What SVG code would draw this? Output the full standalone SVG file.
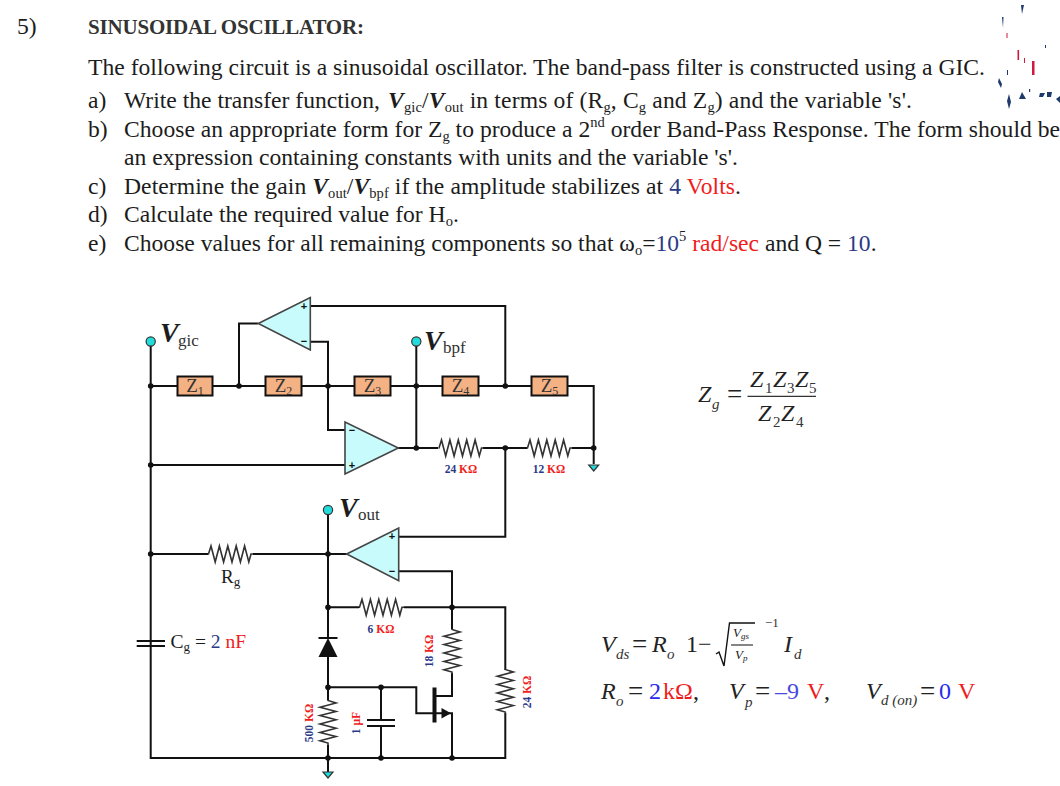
<svg xmlns="http://www.w3.org/2000/svg" width="1060" height="786" viewBox="0 0 1060 786">
<style>
text{font-family:"Liberation Serif","Times New Roman",serif;fill:#1c1c1c}
.q{font-size:23.6px}
.b{fill:#2b3a86}.r{fill:#f01c1c}.bb{fill:#2a2aee}
.sub{font-size:14.5px}
.sc{font-style:italic;font-weight:bold}
.w{fill:none;stroke:#111;stroke-width:2}
.z{fill:#f4b183;stroke:#111;stroke-width:2}
.zt{font-size:19px;text-anchor:middle;fill:#333}
.zs{font-size:12px}
.oa{fill:#c8fbfb;stroke:#444;stroke-width:1.6}
.pm{font-family:"Liberation Sans",sans-serif;font-size:11px;font-weight:bold;text-anchor:middle;fill:#111}
.n{fill:#111}
.t{fill:#22dbdb;stroke:#333;stroke-width:1.2}
.res{fill:none;stroke:#333;stroke-width:1.6}
.lab{font-size:11.5px;font-weight:bold;text-anchor:middle}
.eq{font-size:24px;font-style:italic;fill:#222}
.eqn{font-size:24px;fill:#222}
.eql{font-size:27px;fill:#222}
.es{font-size:15px;font-style:italic;fill:#333}
.en{font-size:15px;fill:#333}
.sp{fill:#1e3a6a}.spr{fill:#d01840}
</style>
<defs>
<path id="rz" d="M0 0H0.5L3 -8L7.2 8L11.4 -8L15.6 8L19.8 -8L24 8L28.2 -8L32.4 8L36.6 -8L40.8 8L43 0H45"/>
<circle id="dot" r="2.8"/>
<path id="gnd" d="M-5 -3H5L0 3Z"/>
</defs>

<g id="problem-text">
<text x="17" y="34" class="q">5)</text>
<text x="88" y="34" font-size="21" font-weight="bold" style="fill:#333" textLength="276">SINUSOIDAL OSCILLATOR:</text>
<text x="88" y="75" class="q" textLength="897">The following circuit is a sinusoidal oscillator. The band-pass filter is constructed using a GIC.</text>
<text x="88" y="108" class="q">a)</text>
<text x="124" y="108" class="q">Write the transfer function, </text>
<text x="388" y="108" class="q" textLength="524"><tspan class="sc">V</tspan><tspan class="sub" dy="4">gic</tspan><tspan dy="-4">/</tspan><tspan class="sc">V</tspan><tspan class="sub" dy="4">out</tspan><tspan dy="-4"> in terms of (R</tspan><tspan class="sub" dy="4">g</tspan><tspan dy="-4">, C</tspan><tspan class="sub" dy="4">g</tspan><tspan dy="-4"> and Z</tspan><tspan class="sub" dy="4">g</tspan><tspan dy="-4">) and the variable 's'.</tspan></text>
<text x="88" y="137" class="q">b)</text>
<text x="124" y="137" class="q" textLength="936">Choose an appropriate form for Z<tspan class="sub" dy="4">g</tspan><tspan dy="-4"> to produce a 2</tspan><tspan class="sub" dy="-10">nd</tspan><tspan dy="10"> order Band-Pass Response. The form should be</tspan></text>
<text x="124" y="165" class="q">an expression containing constants with units and the variable 's'.</text>
<text x="88" y="194" class="q">c)</text>
<text x="124" y="194" class="q" textLength="617">Determine the gain <tspan class="sc">V</tspan><tspan class="sub" dy="4">out</tspan><tspan dy="-4">/</tspan><tspan class="sc">V</tspan><tspan class="sub" dy="4">bpf</tspan><tspan dy="-4"> if the amplitude stabilizes at </tspan><tspan class="b">4</tspan> <tspan class="r">Volts</tspan>.</text>
<text x="88" y="222" class="q">d)</text>
<text x="124" y="222" class="q">Calculate the required value for H<tspan class="sub" dy="4">o</tspan><tspan dy="-4">.</tspan></text>
<text x="88" y="251" class="q">e)</text>
<text x="124" y="251" class="q">Choose values for all remaining components so that ω<tspan class="sub" dy="4">o</tspan><tspan dy="-4">=</tspan><tspan class="b">10</tspan><tspan class="sub" dy="-10">5</tspan><tspan class="r" dy="10"> rad/sec</tspan> and Q = <tspan class="b">10</tspan>.</text>
</g>

<g id="connectors">
<path class="w" d="M150.7 342V758H505.3V713"/>
<path class="w" d="M150.7 386H177M213 386H265M302 386H355M390 386H443M479 386H531M568 386H593.7V464"/>
<path class="w" d="M239 386V323.5H258"/>
<path class="w" d="M310 306H505.3V386"/>
<path class="w" d="M310 341.7H328V430H345"/>
<path class="w" d="M150.7 465H345"/>
<path class="w" d="M398 448H438M416.3 342V448"/>
<path class="w" d="M483 448H527M572 448H593.7"/>
<path class="w" d="M505.3 448V536.7H398.7"/>
<path class="w" d="M150.7 554H208M253 554H346.7"/>
<path class="w" d="M328 510V638M328 656V700M328 745V772"/>
<path class="w" d="M398.7 571.3H452V629M452 673V696H436"/>
<path class="w" d="M328 607.3H359M404 607.3H505.3V670"/>
<path class="w" d="M328 687.3H416.3V713.3H436M381 687.3V720M381 726V758"/>
<path class="w" d="M436 713.3H452V758"/>
<path class="w" d="M136.7 641H165M136.7 646H165" stroke-width="2.4"/>
</g>

<g id="Z1"><rect class="z" x="177.5" y="376.5" width="35" height="19"/><text class="zt" x="195" y="392">Z<tspan class="zs" dy="3">1</tspan></text></g>
<g id="Z2"><rect class="z" x="265.5" y="376.5" width="36" height="19"/><text class="zt" x="283.5" y="392">Z<tspan class="zs" dy="3">2</tspan></text></g>
<g id="Z3"><rect class="z" x="354.5" y="376.5" width="36" height="19"/><text class="zt" x="372.5" y="392">Z<tspan class="zs" dy="3">3</tspan></text></g>
<g id="Z4"><rect class="z" x="442.5" y="376.5" width="36" height="19"/><text class="zt" x="460.5" y="392">Z<tspan class="zs" dy="3">4</tspan></text></g>
<g id="Z5"><rect class="z" x="531.5" y="376.5" width="36" height="19"/><text class="zt" x="549.5" y="392">Z<tspan class="zs" dy="3">5</tspan></text></g>

<g id="opamp-top"><path class="oa" d="M258.3 323.5L310.3 297.5V350Z"/><text class="pm" x="304" y="310">+</text><text class="pm" x="304" y="345">−</text></g>
<g id="opamp-mid"><path class="oa" d="M345 422V474L398.3 448Z"/><text class="pm" x="352" y="434">−</text><text class="pm" x="352" y="469">+</text></g>
<g id="opamp-out"><path class="oa" d="M346.7 554L398.7 528V580.7Z"/><text class="pm" x="392" y="540">+</text><text class="pm" x="392" y="575">−</text></g>

<g id="R-24k-top"><use href="#rz" class="res" transform="translate(438.5 448)"/><text class="lab" x="461" y="473"><tspan class="b">24</tspan> <tspan class="r">KΩ</tspan></text></g>
<g id="R-12k"><use href="#rz" class="res" transform="translate(527 448)"/><text class="lab" x="549" y="473"><tspan class="b">12</tspan> <tspan class="r">KΩ</tspan></text></g>
<g id="Rg"><use href="#rz" class="res" transform="translate(208 554)"/><text x="221" y="583" font-size="19">R<tspan font-size="13" dy="3">g</tspan></text></g>
<g id="Cg"><text x="170.5" y="648" font-size="19.5">C<tspan font-size="13" dy="3">g</tspan><tspan dy="-3"> = </tspan><tspan class="b">2</tspan> <tspan class="r">nF</tspan></text></g>
<g id="R-6k"><use href="#rz" class="res" transform="translate(359 607.3)"/><text class="lab" x="381" y="633"><tspan class="b">6</tspan> <tspan class="r">KΩ</tspan></text></g>
<g id="R-18k"><use href="#rz" class="res" transform="translate(452 629) rotate(90)"/><text class="lab" transform="translate(433 651) rotate(-90)"><tspan class="b">18</tspan> <tspan class="r">KΩ</tspan></text></g>
<g id="R-24k-right"><use href="#rz" class="res" transform="translate(505.3 669) rotate(90)"/><text class="lab" transform="translate(531 692) rotate(-90)"><tspan class="b">24</tspan> <tspan class="r">KΩ</tspan></text></g>
<g id="R-500k"><use href="#rz" class="res" transform="translate(328 700) rotate(90)"/><text class="lab" transform="translate(313 723) rotate(-90)"><tspan class="b">500</tspan> <tspan class="r">KΩ</tspan></text></g>
<g id="C-1u"><path class="w" d="M367 720H395M367 726H395" stroke-width="2.4"/><text class="lab" transform="translate(360 723) rotate(-90)"><tspan class="b">1</tspan> <tspan class="r">µF</tspan></text></g>
<g id="diode"><path class="n" d="M328 638L337.5 657H318.5Z"/><path class="w" d="M318.5 638H337.5" stroke-width="2.6"/></g>
<g id="jfet"><rect class="n" x="432.5" y="687.5" width="4" height="35"/><path class="n" d="M451 713.3L441.5 708V718.5Z"/></g>

<g id="junctions" class="n">
<use href="#dot" x="150.7" y="386"/><use href="#dot" x="239" y="386"/><use href="#dot" x="328" y="386"/><use href="#dot" x="416.3" y="386"/><use href="#dot" x="505.3" y="386"/>
<use href="#dot" x="150.7" y="465"/><use href="#dot" x="416.3" y="448"/><use href="#dot" x="505.3" y="448"/><use href="#dot" x="593.7" y="448"/>
<use href="#dot" x="150.7" y="554"/><use href="#dot" x="328" y="554"/><use href="#dot" x="328" y="607.3"/><use href="#dot" x="452" y="607.3"/>
<use href="#dot" x="328" y="687.3"/><use href="#dot" x="381" y="687.3"/><use href="#dot" x="328" y="758"/><use href="#dot" x="381" y="758"/><use href="#dot" x="452" y="758"/>
</g>

<g id="Vgic"><circle class="t" cx="150.7" cy="341.5" r="4.6"/><text x="160" y="342" font-size="28" class="sc">V</text><text x="178" y="346" font-size="17" style="fill:#333">gic</text></g>
<g id="Vbpf"><circle class="t" cx="416.3" cy="341.5" r="4.6"/><text x="424" y="350" font-size="28" class="sc">V</text><text x="443" y="353" font-size="17" style="fill:#333">bpf</text></g>
<g id="Vout"><circle class="t" cx="328" cy="510" r="4.6"/><text x="339" y="517" font-size="28" class="sc">V</text><text x="358" y="520" font-size="17" style="fill:#333">out</text></g>
<g id="ground-1"><use href="#gnd" class="t" x="593.7" y="468"/></g>
<g id="ground-2"><use href="#gnd" class="t" x="328" y="775"/></g>

<g id="equations">
<text class="eq" x="698" y="402">Z</text><text class="es" x="712" y="409">g</text><text class="eql" x="727" y="403">=</text>
<text class="eq" x="750" y="387">Z</text><text class="en" x="765" y="393">1</text><text class="eq" x="773" y="387">Z</text><text class="en" x="787" y="393">3</text><text class="eq" x="795" y="387">Z</text><text class="en" x="809" y="393">5</text>
<path d="M747.5 396.3H816" fill="none" stroke="#333" stroke-width="1.2"/>
<text class="eq" x="758" y="421">Z</text><text class="en" x="773" y="427">2</text><text class="eq" x="781" y="421">Z</text><text class="en" x="796" y="427">4</text>

<text class="eq" x="601" y="652">V</text><text class="es" x="616" y="659">ds</text><text class="eql" x="632" y="653">=</text><text class="eq" x="652" y="652">R</text><text class="es" x="667" y="659">o</text>
<text class="eqn" x="686" y="652">1−</text>
<path d="M716 654L719 652L724 666L729.5 623H755" fill="none" stroke="#111" stroke-width="1.4"/>
<text x="733" y="637" font-size="13" font-style="italic">V<tspan font-size="9" dy="2">gs</tspan></text>
<path d="M731 645H753" fill="none" stroke="#333" stroke-width="1.2"/>
<text x="735" y="659" font-size="13" font-style="italic">V<tspan font-size="9" dy="2">p</tspan></text>
<text x="765" y="627" font-size="13" style="fill:#333">−1</text>
<text class="eq" x="784" y="652">I</text><text class="es" x="794" y="659">d</text>

<text class="eq" x="601" y="699">R</text><text class="es" x="616" y="706">o</text><text class="eql" x="628" y="700">=</text>
<text class="eqn" x="649" y="699" style="fill:#2a2aee">2</text><text class="eqn" x="663" y="699" style="fill:#f01c1c">kΩ</text><text class="eqn" x="693" y="699">,</text>
<text class="eq" x="729" y="699">V</text><text class="es" x="745" y="707">p</text><text class="eql" x="755" y="700">=</text>
<text class="eqn" x="775" y="699" style="fill:#4a4ae0">–9</text><text class="eqn" x="807" y="699" style="fill:#f01c1c">V</text><text class="eqn" x="824" y="699">,</text>
<text class="eq" x="866" y="699">V</text><text class="es" x="881" y="705">d (on)</text><text class="eql" x="920" y="700">=</text>
<text class="eqn" x="939" y="699" style="fill:#2a2aee">0</text><text class="eqn" x="958" y="699" style="fill:#f01c1c">V</text>
</g>

<g id="specks">
<path class="sp" d="M1009 94L1011 102L1009 109L1007 101Z"/>
<path class="sp" d="M1019 99L1022 92L1026 99Z"/>
<path class="sp" d="M1040 93H1045L1043 97H1039Z"/>
<path class="sp" d="M1047 92H1052L1051 97H1047Z"/>
<path class="sp" d="M1056 99L1060 96V103Z"/>
<path class="sp" d="M999 78L1002 84L1001 88L998 82Z"/>
<path class="sp" d="M1021 5L1024 5L1022 14Z"/>
<path class="sp" d="M1002 17L1003.5 17L1003 28Z"/>
<rect class="sp" x="1029" y="89" width="1.2" height="3"/>
<rect class="sp" x="1007" y="70" width="1" height="5"/>
<rect class="sp" x="1045" y="45" width="1" height="3"/>
<rect class="spr" x="1032" y="61" width="2.5" height="14"/>
<rect class="spr" x="1017.5" y="50" width="1.6" height="10"/>
<rect class="spr" x="1024" y="58" width="1" height="5"/>
<rect class="spr" x="1006.5" y="33" width="1" height="5"/>
</g>
</svg>
